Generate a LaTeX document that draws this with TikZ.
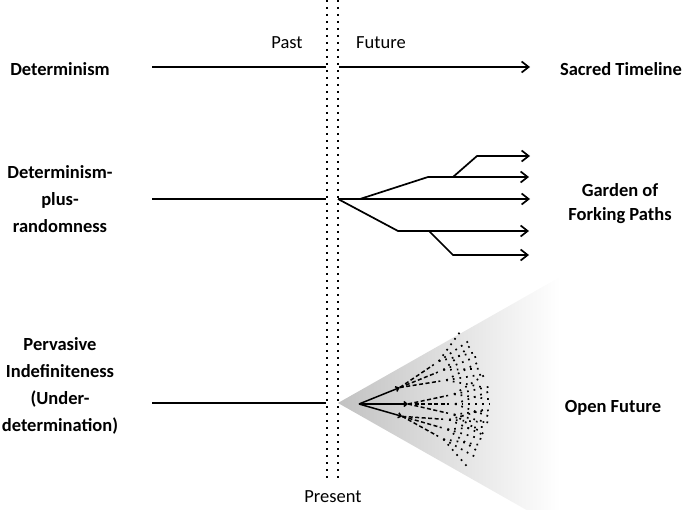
\documentclass[tikz,border=0pt]{standalone}
\usepackage{fontspec}
\setmainfont{Carlito}
\usetikzlibrary{arrows.meta}

\begin{document}
\begin{tikzpicture}[x=1pt,y=1pt,>={Straight Barb[length=7pt,width=11pt]},
  lbl/.style={font=\fontsize{18.5}{27}\selectfont\bfseries,align=center},
  tag/.style={font=\fontsize{18.5}{22}\selectfont},
  line/.style={line width=1.7pt},
  sub/.style={line width=1.5pt,-{Straight Barb[length=3pt,width=5pt]}},
  dsh/.style={line width=1.5pt,dash pattern=on 4pt off 2.5pt},
  dts/.style={line width=1.7pt,dash pattern=on 1.7pt off 5pt},
  now/.style={line width=1.8pt,dash pattern=on 1.8pt off 5.2pt}]
  \useasboundingbox (0,0) rectangle (685,509);
  % shaded cone of the open future
  \begin{scope}
    \clip (0,0) rectangle (685,509);
    \shade[left color=black!24,right color=white] (338,106) -- (560,232) -- (560,-20) -- cycle;
  \end{scope}
  % labels
  \node[lbl]  at (60,440) (det) {Determinism};
  \node[lbl]  at (60,310) (dpr) {Determinism-\\plus-\\randomness};
  \node[lbl]  at (60,123) (pin) {Pervasive\\Indefiniteness\\(Under-\\determination)};
  \node[lbl]  at (621,440) (sac) {Sacred Timeline};
  \node[lbl]  at (620,305) (gar) {Garden of\\[-3pt]Forking Paths};
  \node[lbl]  at (613,101) (opn) {Open Future};
  \node[tag]  at (287,466) (past) {Past};
  \node[tag]  at (381,466) (fut) {Future};
  \node[tag]  at (333,12) (pres) {Present};
  % the present
  \coordinate (n1) at (327,509); \coordinate (n2) at (327,28);
  \coordinate (n3) at (338,509); \coordinate (n4) at (338,28);
  \draw[now] (n1) -- (n2);
  \draw[now] (n3) -- (n4);
  % sacred timeline
  \coordinate (t0) at (152,442); \coordinate (t1) at (326,442);
  \coordinate (t2) at (339,442); \coordinate (t3) at (530,442);
  \draw[line] (t0) -- (t1);
  \draw[line,->] (t2) -- (t3);
  % forking paths
  \coordinate (g0) at (152,310); \coordinate (g1) at (326,310);
  \coordinate (go) at (338,310); \coordinate (ge) at (530,310);
  \draw[line] (g0) -- (g1);
  \draw[line,->] (go) -- (ge);
  \draw[line,->] (360,310) -- (428,332) -- (529,332);
  \draw[line,->] (453,332) -- (477,353) -- (530,353);
  \draw[line,->] (go) -- (398,278) -- (529,278);
  \draw[line,->] (429,278) -- (453,254) -- (529,254);
  % open future
  \coordinate (p0) at (152,106); \coordinate (p1) at (326,106);
  \draw[line] (p0) -- (p1);
  \coordinate (o) at (359,105);
  \foreach \a/\l in {22/44,0/49,-16/45} {
    \draw[sub] (o) -- ++(\a:\l) coordinate (e);
    \foreach \b in {12,0,-13} {
      \draw[dsh] (e) -- ++(\a+\b:41) coordinate (f);
      \foreach \c in {20,0,-20}
        \draw[dts] (f) ++(\a+\b:6) -- ++(\a+\b+\c:38);
    }
  }
\end{tikzpicture}
\end{document}
